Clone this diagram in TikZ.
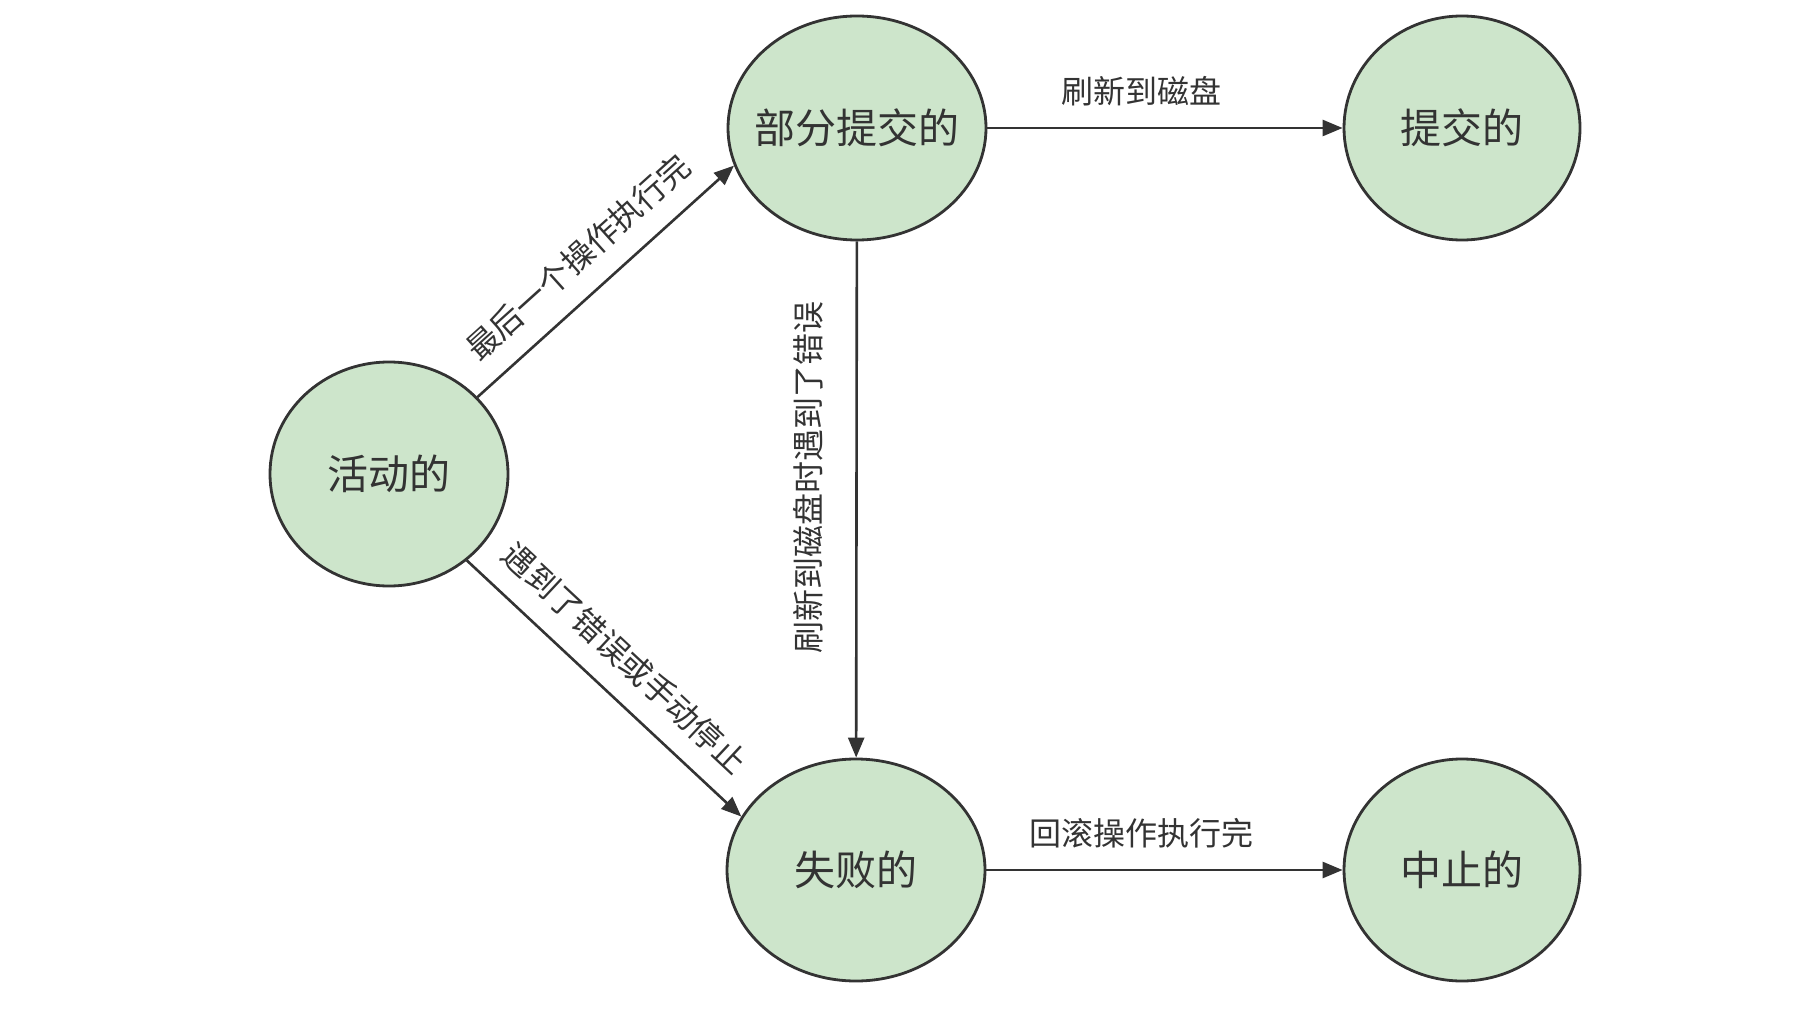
\documentclass[tikz,border=0pt]{standalone}
\usepackage{fontspec}
\newfontfamily\cjk{Noto Sans CJK SC}
\usetikzlibrary{shapes.geometric,arrows.meta}
\definecolor{nodefill}{RGB}{205,229,203}
\definecolor{ink}{RGB}{51,51,51}
\tikzset{
  state/.style={ellipse, draw=ink, line width=1.4pt, fill=nodefill, inner ysep=0pt, inner xsep=-20pt,
    text=ink, font=\cjk\fontsize{20.5}{24}\selectfont},
  edgelabel/.style={text=ink, inner sep=0pt, font=\cjk\fontsize{16}{19}\selectfont},
  flow/.style={draw=ink, line width=1.3pt, -{Triangle[length=10pt,width=8pt]}}
}
\begin{document}
\begin{tikzpicture}[x=0.5pt,y=-0.5pt]
\useasboundingbox (0,0) rectangle (1819,1027);
\node[state, minimum width=119pt, minimum height=112pt] (act) at (389,474) {活动的};
\node[state, minimum width=129pt, minimum height=112pt] (part) at (857,128) {部分提交的};
\node[state, minimum width=118pt, minimum height=112pt] (comm) at (1462,128) {提交的};
\node[state, minimum width=129pt, minimum height=111pt] (fail) at (856,870) {失败的};
\node[state, minimum width=118pt, minimum height=111pt] (abrt) at (1462,870) {中止的};

\draw[flow] (act.41.5) -- (part.197);
\draw[flow] (act.312) -- (fail.155);
\draw[flow] (part) -- (comm);
\draw[flow] (fail) -- (abrt);
\draw[flow] (part) -- (fail);

\node[edgelabel, rotate=42] (l1) at (578,257) {最后一个操作执行完};
\node[edgelabel, rotate=-43] (l2) at (625,658) {遇到了错误或手动停止};
\node[edgelabel] (l3) at (1141,91) {刷新到磁盘};
\node[edgelabel] (l4) at (1141,833) {回滚操作执行完};
\node[edgelabel, rotate=90] (l5) at (808,477) {刷新到磁盘时遇到了错误};
\end{tikzpicture}
\end{document}
